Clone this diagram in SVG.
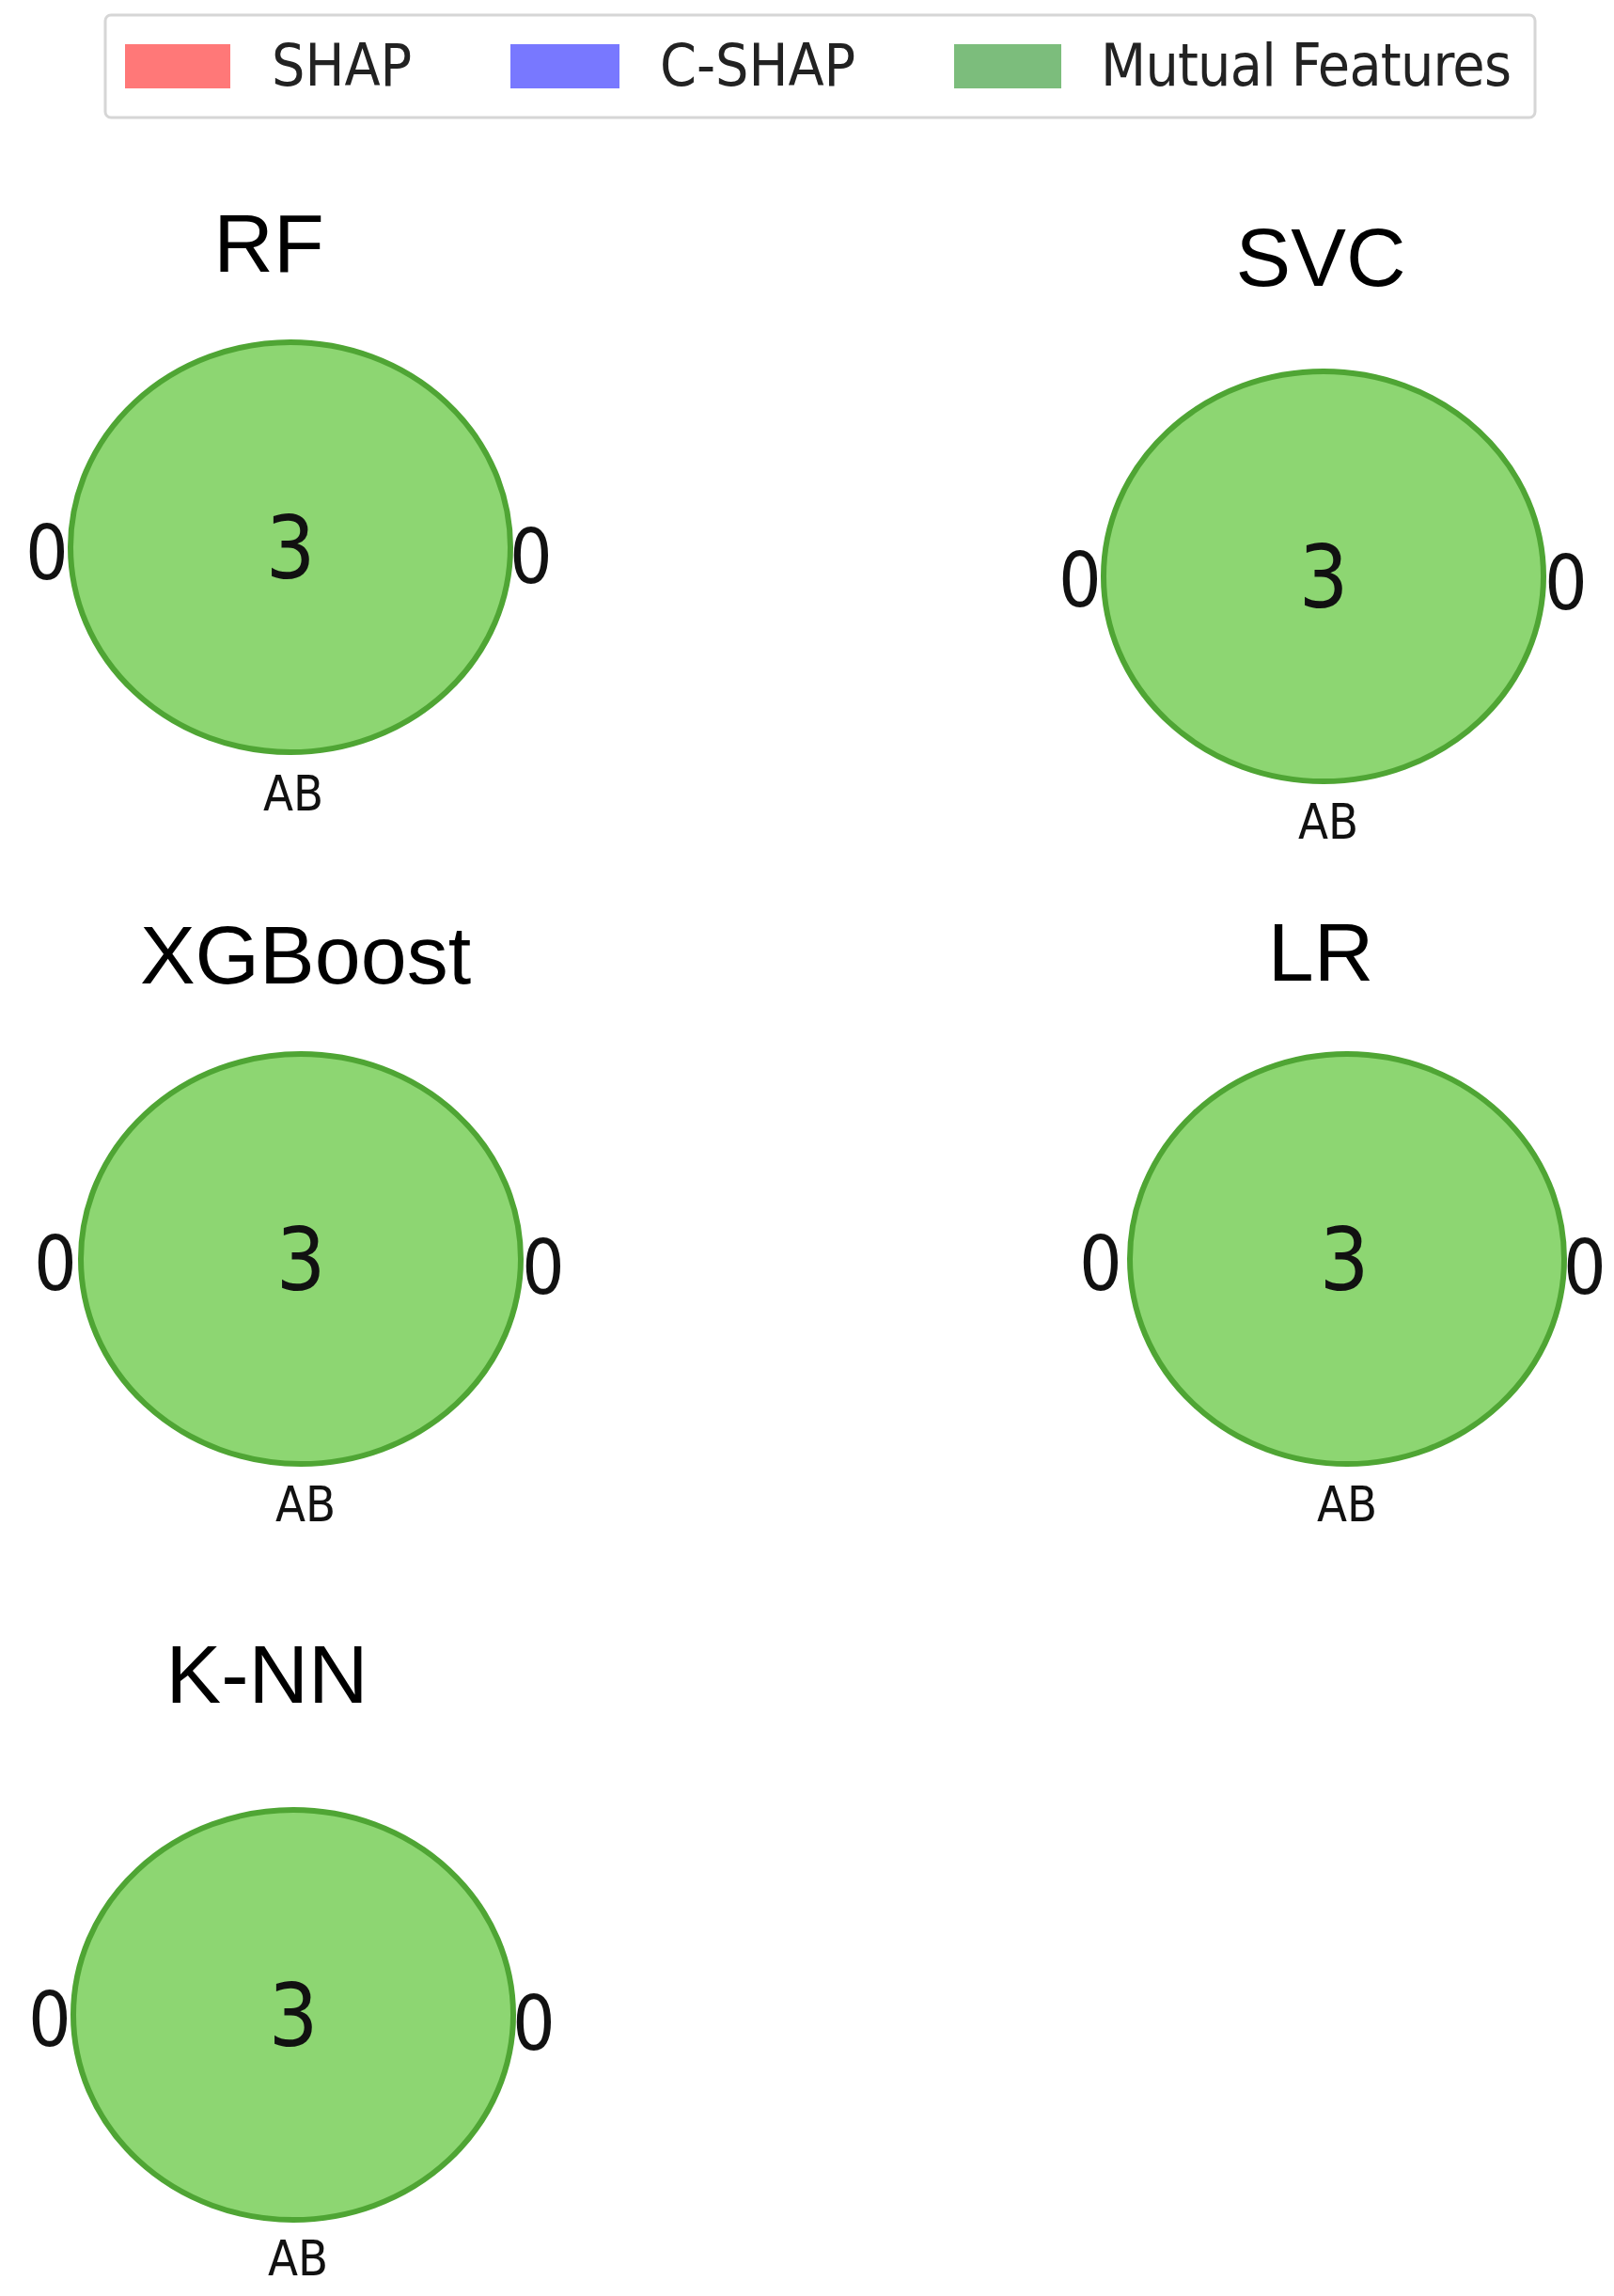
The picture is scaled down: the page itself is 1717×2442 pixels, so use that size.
<svg xmlns="http://www.w3.org/2000/svg" width="1717" height="2442" viewBox="0 0 1717 2442">
<style>
.bg{fill:#fff}
.leg{fill:#fff;stroke:#d6d6d6;stroke-width:3}
.lt{font-family:"DejaVu Sans Condensed","DejaVu Sans",sans-serif;font-size:62px;fill:#222}
.title{font-family:"Liberation Sans",Arial,sans-serif;font-size:88px;fill:#000;text-anchor:middle}
.c{fill:#8dd672;stroke:#4fa534;stroke-width:6}
.n{font-family:"DejaVu Sans Condensed","DejaVu Sans",sans-serif;font-size:92px;fill:#111;text-anchor:middle}
.z{font-family:"DejaVu Sans Condensed","DejaVu Sans",sans-serif;font-size:80px;fill:#111;text-anchor:middle}
.ab{font-family:"DejaVu Sans Condensed","DejaVu Sans",sans-serif;font-size:52px;fill:#111;text-anchor:middle}
</style>
<rect class="bg" width="1717" height="2442"/>
<g id="legend">
<rect class="leg" x="112" y="16" width="1521" height="109" rx="6"/>
<rect x="133" y="47" width="112" height="47" fill="#ff7878"/>
<text class="lt" x="289" y="91">SHAP</text>
<rect x="543" y="47" width="116" height="47" fill="#7878ff"/>
<text class="lt" x="702" y="91">C-SHAP</text>
<rect x="1015" y="47" width="114" height="47" fill="#7cbd7c"/>
<text class="lt" x="1171" y="91" textLength="437">Mutual Features</text>
</g>
<g id="RF">
<text class="title" x="286" y="289">RF</text>
<ellipse class="c" cx="309" cy="582" rx="234" ry="218"/>
<text class="n" x="309" y="615">3</text>
<text class="z" x="50" y="616">0</text>
<text class="z" x="565" y="620">0</text>
<text class="ab" x="312" y="862">AB</text>
</g>
<g id="SVC">
<text class="title" x="1405" y="304">SVC</text>
<ellipse class="c" cx="1408" cy="613" rx="234" ry="218"/>
<text class="n" x="1408" y="646">3</text>
<text class="z" x="1149" y="645">0</text>
<text class="z" x="1666" y="648">0</text>
<text class="ab" x="1413" y="892">AB</text>
</g>
<g id="XGBoost">
<text class="title" x="325" y="1046">XGBoost</text>
<ellipse class="c" cx="320" cy="1339" rx="234" ry="218"/>
<text class="n" x="320" y="1372">3</text>
<text class="z" x="59" y="1372">0</text>
<text class="z" x="578" y="1376">0</text>
<text class="ab" x="325" y="1618">AB</text>
</g>
<g id="LR">
<text class="title" x="1405" y="1043">LR</text>
<ellipse class="c" cx="1433" cy="1339" rx="231" ry="218"/>
<text class="n" x="1430" y="1372">3</text>
<text class="z" x="1171" y="1372">0</text>
<text class="z" x="1686" y="1376">0</text>
<text class="ab" x="1433" y="1618">AB</text>
</g>
<g id="K-NN">
<text class="title" x="284" y="1811">K-NN</text>
<ellipse class="c" cx="312" cy="2143" rx="234" ry="218"/>
<text class="n" x="312" y="2176">3</text>
<text class="z" x="53" y="2176">0</text>
<text class="z" x="568" y="2180">0</text>
<text class="ab" x="317" y="2420">AB</text>
</g>
<g id="connectors"></g>
</svg>
